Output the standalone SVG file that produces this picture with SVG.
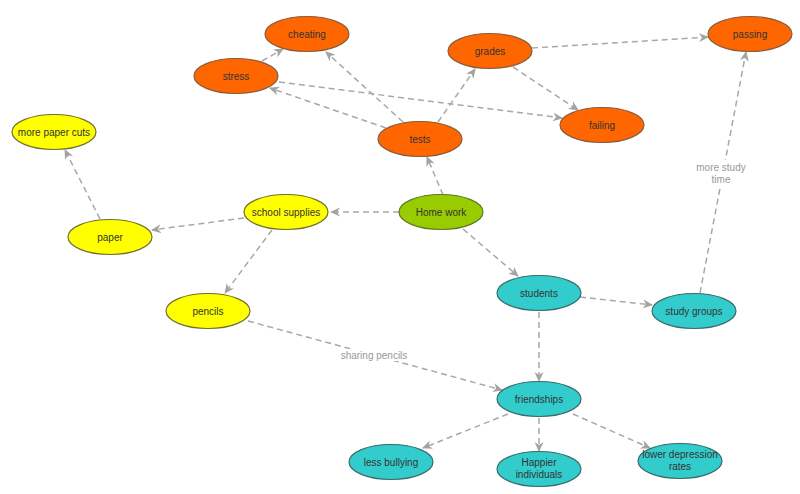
<svg xmlns="http://www.w3.org/2000/svg" width="800" height="494" viewBox="0 0 800 494">
<defs>
<marker id="arr" viewBox="0 0 10 10" refX="9" refY="5" markerWidth="10" markerHeight="10" markerUnits="userSpaceOnUse" orient="auto">
<path d="M0,0.5 L10,5 L0,9.5 L3,5 z" fill="#a3a3a3"/>
</marker>
<style>
.e{fill:none;stroke:#a8a8a8;stroke-width:1.5;stroke-dasharray:6 4;marker-end:url(#arr)}
.o{fill:#ff6600;stroke:#8a5a3a;stroke-width:1.2}
.y{fill:#ffff00;stroke:#707030;stroke-width:1.2}
.t{fill:#33cccc;stroke:#3a6a6a;stroke-width:1.2}
.g{fill:#99cc00;stroke:#5a7a20;stroke-width:1.2}
text{font-family:"Liberation Sans","DejaVu Sans",sans-serif;font-size:10px;fill:#333;text-anchor:middle}
.l{fill:#999}
.bg{fill:#ffffff}
</style>
</defs>
<rect width="800" height="494" fill="#ffffff"/>
<g id="connectors">
<path class="e" d="M443,195 L427,157"/>
<path class="e" d="M399,212 L331,212"/>
<path class="e" d="M463,229 L518,276"/>
<path class="e" d="M403,122 L326,52"/>
<path class="e" d="M386,128 L270,88"/>
<path class="e" d="M438,122 L475,69"/>
<path class="e" d="M262,61 L283,49"/>
<path class="e" d="M279,82 L562,118"/>
<path class="e" d="M532,48 L708,37"/>
<path class="e" d="M513,67 L578,110"/>
<path class="e" d="M244,218 L152,230"/>
<path class="e" d="M272,230 L225,293"/>
<path class="e" d="M100,219 L65,150"/>
<path class="e" d="M248,321 L502,390"/>
<path class="e" d="M580,297 L652,305"/>
<path class="e" d="M539,312 L539,381"/>
<path class="e" d="M700,293 L746,52"/>
<path class="e" d="M508,414 L423,448"/>
<path class="e" d="M539,418 L539,451"/>
<path class="e" d="M573,414 L650,448"/>
<rect class="bg" x="340" y="349" width="70" height="12"/>
<text class="l" x="374" y="359">sharing pencils</text>
<rect class="bg" x="694" y="160" width="54" height="25"/>
<text class="l" x="721" y="171">more study</text>
<text class="l" x="721" y="183">time</text>
</g>
<g id="cheating"><ellipse class="o" cx="307" cy="34" rx="42" ry="17.5"/><text x="307" y="38">cheating</text></g>
<g id="stress"><ellipse class="o" cx="236" cy="76" rx="42" ry="17.5"/><text x="236" y="80">stress</text></g>
<g id="tests"><ellipse class="o" cx="420" cy="139" rx="42" ry="17.5"/><text x="420" y="143">tests</text></g>
<g id="grades"><ellipse class="o" cx="490" cy="51" rx="42" ry="17.5"/><text x="490" y="55">grades</text></g>
<g id="passing"><ellipse class="o" cx="750" cy="34" rx="42" ry="17.5"/><text x="750" y="38">passing</text></g>
<g id="failing"><ellipse class="o" cx="602" cy="125" rx="42" ry="17.5"/><text x="602" y="129">failing</text></g>
<g id="more-paper-cuts"><ellipse class="y" cx="54" cy="132" rx="42" ry="17.5"/><text x="54" y="136">more paper cuts</text></g>
<g id="paper"><ellipse class="y" cx="110" cy="237" rx="42" ry="17.5"/><text x="110" y="241">paper</text></g>
<g id="school-supplies"><ellipse class="y" cx="286" cy="212" rx="42" ry="17.5"/><text x="286" y="216">school supplies</text></g>
<g id="home-work"><ellipse class="g" cx="441" cy="212" rx="42" ry="17.5"/><text x="441" y="216">Home work</text></g>
<g id="pencils"><ellipse class="y" cx="208" cy="311" rx="42" ry="17.5"/><text x="208" y="315">pencils</text></g>
<g id="students"><ellipse class="t" cx="539" cy="293" rx="42" ry="17.5"/><text x="539" y="297">students</text></g>
<g id="study-groups"><ellipse class="t" cx="694" cy="311" rx="42" ry="17.5"/><text x="694" y="315">study groups</text></g>
<g id="friendships"><ellipse class="t" cx="539" cy="399" rx="42" ry="17.5"/><text x="539" y="403">friendships</text></g>
<g id="less-bullying"><ellipse class="t" cx="391" cy="462" rx="42" ry="17.5"/><text x="391" y="466">less bullying</text></g>
<g id="happier-individuals"><ellipse class="t" cx="539" cy="469" rx="42" ry="17.5"/><text x="539" y="466">Happier</text><text x="539" y="478">individuals</text></g>
<g id="lower-depression-rates"><ellipse class="t" cx="680" cy="461" rx="42" ry="17.5"/><text x="680" y="458">lower depression</text><text x="680" y="470">rates</text></g>
</svg>
